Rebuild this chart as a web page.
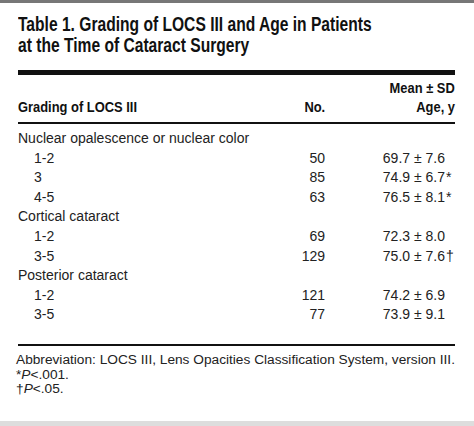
<!DOCTYPE html>
<html>
<head>
<meta charset="utf-8">
<script src="https://cdn.jsdelivr.net/npm/chart.js"></script>
<style>
  body { margin: 0; width: 474px; height: 426px; background: #fff; position: relative; overflow: hidden;
         font-family: "Liberation Sans", Arial, sans-serif; color: #222; }
  .abs { position: absolute; white-space: nowrap; }
  .title { font-weight: bold; font-size: 19.5px; line-height: 21px; left: 18px; top: 14px; color: #111;
           transform: scaleX(0.8); transform-origin: left top; }
  .hdr { font-weight: bold; font-size: 15px; color: #111; transform: scaleX(0.86); }
  .hl { transform-origin: left top; }
  .hr { transform-origin: right top; }
  .row { font-size: 14px; }
  .foot { font-size: 13.7px; left: 16px; }
  .rule { position: absolute; left: 18px; width: 437px; background: #111; }
</style>
</head>
<body>
<div class="abs" style="left:0;top:0;width:474px;height:3px;background:#777"></div>
<div class="abs" style="left:0;top:421px;width:474px;height:5px;background:#ddd"></div>
<div class="abs title">Table 1. Grading of LOCS III and Age in Patients<br>at the Time of Cataract Surgery</div>
<div class="rule" style="top:70px;height:5px"></div>
<div class="abs hdr hl" style="left:18px;top:98px">Grading of LOCS III</div>
<div class="abs hdr hr" style="right:149px;top:98px">No.</div>
<div class="abs hdr hr" style="right:19px;top:79px">Mean ± SD</div>
<div class="abs hdr hr" style="right:19px;top:98px">Age, y</div>
<div class="rule" style="top:122px;height:2px"></div>
<div id="rows"></div>
<div class="rule" style="top:344px;height:2px"></div>
<div class="abs foot" style="top:352px">Abbreviation: LOCS III, Lens Opacities Classification System, version III.</div>
<div class="abs foot" style="top:367px">*<i>P</i>&lt;.001.</div>
<div class="abs foot" style="top:381px">†<i>P</i>&lt;.05.</div>
<script>
// 표의 내용
const groups = ['Nuclear opalescence or nuclear color', 'Cortical cataract', 'Posterior cataract'];
const grades = [['1-2', '3', '4-5'], ['1-2', '3-5'], ['1-2', '3-5']];
const counts = [[50, 85, 63], [69, 129], [121, 77]];
const means = [[69.7, 74.9, 76.5], [72.3, 75.0], [74.2, 73.9]];
const sds = [[7.6, 6.7, 8.1], [8.0, 7.6], [6.9, 9.1]];
const marks = [['', '*', '*'], ['', '†'], ['', '']];

const rows = document.getElementById('rows');
let y = 130;
const step = 19.6;
function add(text, css) {
  const d = document.createElement('div');
  d.className = 'abs row';
  d.style.cssText = css + ';top:' + y + 'px';
  d.textContent = text;
  rows.appendChild(d);
}
groups.forEach((g, i) => {
  add(g, 'left:18px');
  y += step;
  grades[i].forEach((gr, j) => {
    add(gr, 'left:34px');
    add(String(counts[i][j]), 'right:149px');
    add(means[i][j].toFixed(1) + ' ± ' + sds[i][j].toFixed(1), 'right:29px');
    if (marks[i][j]) add(marks[i][j], 'left:446px');
    y += step;
  });
});
</script>
</body>
</html>
